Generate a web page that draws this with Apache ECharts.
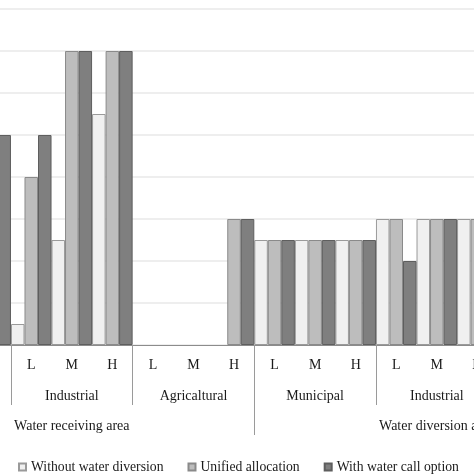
<!DOCTYPE html>
<html>
<head>
<meta charset="utf-8">
<script src="https://cdn.jsdelivr.net/npm/echarts@6/dist/echarts.min.js"></script>
<style>
  html, body { margin: 0; padding: 0; background: #fff; overflow: hidden; }
  body { width: 474px; height: 474px; position: relative; }
  /* the reference is a crop of a wider figure, so the chart is wider than the window */
  #chart { position: absolute; left: -200px; top: 0; width: 1000px; height: 474px; }
</style>
</head>
<body>
<div id="chart"></div>
<script>
// levels and groups along the x axis
const levels = ['L', 'M', 'H', 'L', 'M', 'H', 'L', 'M', 'H', 'L', 'M', 'H', 'L', 'M', 'H', 'L', 'M', 'H'];
const sectors = ['Municipal', 'Industrial', 'Agricaltural', 'Municipal', 'Industrial', 'Agricaltural'];
const areas = ['Water receiving area', 'Water diversion area'];

// values (null = outside the visible crop)
const withoutDiversion = [null, null, null, 0.5, 2.5, 5.5, 0, 0, 0, 2.5, 2.5, 2.5, 3, 3, 3, null, null, null];
const unifiedAllocation = [null, null, null, 4, 7, 7, 0, 0, 3, 2.5, 2.5, 2.5, 3, 3, 3, null, null, null];
const waterCallOption = [null, null, 5, 5, 7, 7, 0, 0, 3, 2.5, 2.5, 2.5, 2, 3, null, null, null, null];

const seriesNames = ['Without water diversion', 'Unified allocation', 'With water call option'];
const fills = ['#f0f0f0', '#bdbdbd', '#7f7f7f'];
const borders = ['#9a9a9a', '#8a8a8a', '#5e5e5e'];

const font = 'Liberation Serif, Times New Roman, serif';
const chart = echarts.init(document.getElementById('chart'));
const data = [withoutDiversion, unifiedAllocation, waterCallOption];

const labelStyle = { fontSize: 14, color: '#1a1a1a', fontFamily: font, interval: 0 };

chart.setOption({
  animation: false,
  textStyle: { fontFamily: font },
  grid: { left: 89.3, width: 730, top: 9, height: 336 },
  legend: {
    left: 213,
    top: 455,
    icon: 'rect',
    itemWidth: 7,
    itemHeight: 7,
    itemGap: 24,
    textStyle: { fontFamily: font, fontSize: 13.7, color: '#1a1a1a' },
    data: seriesNames
  },
  xAxis: [
    {
      type: 'category',
      data: levels,
      axisTick: { show: false },
      axisLine: { show: true, lineStyle: { color: '#8c8c8c' } },
      axisLabel: Object.assign({ margin: 13 }, labelStyle)
    },
    {
      type: 'category',
      data: sectors,
      position: 'bottom',
      axisLine: { show: false },
      axisTick: { show: true, interval: 0, length: 60, lineStyle: { color: '#9a9a9a' } },
      axisLabel: Object.assign({ margin: 44 }, labelStyle)
    },
    {
      type: 'category',
      data: areas,
      position: 'bottom',
      axisLine: { show: false },
      axisTick: { show: true, interval: 0, length: 90, lineStyle: { color: '#9a9a9a' } },
      axisLabel: Object.assign({ margin: 74 }, labelStyle)
    }
  ],
  yAxis: {
    type: 'value',
    min: 0,
    max: 8,
    interval: 1,
    axisLabel: { show: false },
    axisLine: { show: false },
    axisTick: { show: false },
    splitLine: { lineStyle: { color: '#e8e8e8', width: 1.5 } }
  },
  series: seriesNames.map((name, i) => ({
    name: name,
    type: 'bar',
    xAxisIndex: 0,
    barGap: '0%',
    barCategoryGap: '0%',
    // a zero value draws no bar at all in the reference
    data: data[i].map(v => (v === 0 ? null : v)),
    itemStyle: { color: fills[i], borderColor: borders[i], borderWidth: 1 }
  }))
});
</script>
</body>
</html>
